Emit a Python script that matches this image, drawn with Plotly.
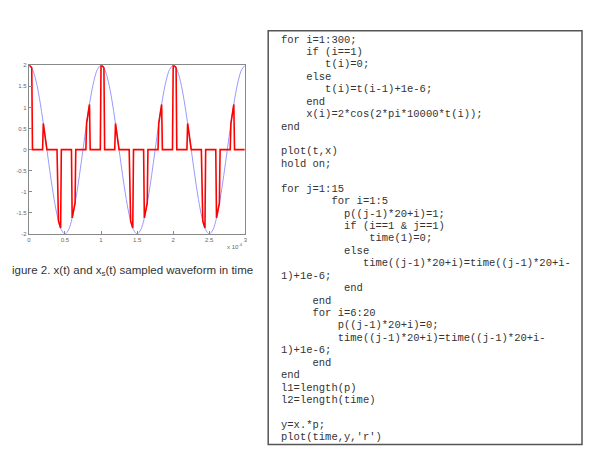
import plotly.graph_objects as go

# Blue: x(t) read every 5 microseconds (t in seconds)
t_blue = [i * 5e-6 for i in range(61)]
x_period = [2.00, 1.90, 1.62, 1.18, 0.62, 0.00, -0.62, -1.18, -1.62, -1.90,
            -2.00, -1.90, -1.62, -1.18, -0.62, 0.00, 0.62, 1.18, 1.62, 1.90]
x_blue = x_period * 3 + [2.00]

# Red: sampled pulses, 5 samples per 20-sample block, values per block phase
pulse_vals = [
    [2.00, 2.00, 1.98, 1.96, 1.94],
    [0.62, 0.50, 0.37, 0.25, 0.13],
    [-1.62, -1.69, -1.75, -1.81, -1.86],
    [-1.62, -1.54, -1.46, -1.37, -1.27],
    [0.62, 0.74, 0.85, 0.96, 1.07],
]
n_blocks = 15

t_red, y_red = [], []
for j in range(n_blocks):
    vals = pulse_vals[j % 5]
    for k in range(5):
        t_red.append((20 * j + k) * 1e-6)
        y_red.append(vals[k])
    t_red += [(20 * j + 5) * 1e-6, (20 * j + 19) * 1e-6]
    y_red += [0, 0]

code_lines = [
    "for i=1:300;", "    if (i==1)", "       t(i)=0;", "    else", "       t(i)=t(i-1)+1e-6;",
    "    end", "    x(i)=2*cos(2*pi*10000*t(i));", "end", "", "plot(t,x)", "hold on;", "",
    "for j=1:15", "        for i=1:5", "          p((j-1)*20+i)=1;", "          if (i==1 & j==1)",
    "              time(1)=0;", "          else", "             time((j-1)*20+i)=time((j-1)*20+i-",
    "1)+1e-6;", "          end", "     end", "     for i=6:20", "         p((j-1)*20+i)=0;",
    "         time((j-1)*20+i)=time((j-1)*20+i-", "1)+1e-6;", "     end", "end",
    "l1=length(p)", "l2=length(time)", "", "y=x.*p;", "plot(time,y,'r')",
]

OFF = 8
W, H = 593 - 2 * OFF, 457 - 2 * OFF
px = lambda x: (x - OFF) / W
py = lambda y: 1 - (y - OFF) / H

fig = go.Figure()
fig.add_trace(go.Scatter(x=t_blue, y=x_blue, mode="lines", line=dict(color="#9999ff", width=1, shape="spline")))
fig.add_trace(go.Scatter(x=t_red, y=y_red, mode="lines", line=dict(color="#ff0000", width=1.6)))

ax = dict(showgrid=False, zeroline=False, showline=True, linecolor="#888", mirror=True,
          ticks="inside", ticklen=3, tickcolor="#888", tickfont=dict(size=6, color="#666", family="Arial"))
fig.update_layout(
    width=W, height=H, showlegend=False, plot_bgcolor="white", paper_bgcolor="white",
    margin=dict(l=0, r=0, t=0, b=0),
    xaxis=dict(ax, domain=[px(27), px(245)], range=[0, 3e-4], tickvals=[0, 5e-5, 1e-4, 1.5e-4, 2e-4, 2.5e-4, 3e-4],
               ticktext=["0", "0.5", "1", "1.5", "2", "2.5", "3"]),
    yaxis=dict(ax, domain=[py(234), py(63)], range=[-2, 2], tickvals=[-2, -1.5, -1, -0.5, 0, 0.5, 1, 1.5, 2],
               ticktext=["-2", "-1.5", "-1", "-0.5", "0", "0.5", "1", "1.5", "2"]),
)
fig.add_annotation(x=px(245), y=py(240), xref="paper", yref="paper", xanchor="right", yanchor="top",
                   text="x 10<sup>-4</sup>", showarrow=False, font=dict(size=6, color="#666", family="Arial"))
fig.add_annotation(x=px(8), y=py(272), xref="paper", yref="paper", xanchor="left", yanchor="middle",
                   text="igure 2. x(t) and x<sub>s</sub>(t) sampled waveform in time", showarrow=False,
                   font=dict(size=11.5, color="#333", family="Liberation Sans"))
fig.add_shape(type="rect", xref="paper", yref="paper", x0=px(268), x1=px(584), y0=py(447.5), y1=py(28),
              line=dict(color="#555", width=1.5), fillcolor="rgba(0,0,0,0)")
for i, s in enumerate(code_lines):
    if s:
        fig.add_annotation(x=px(279), y=py(37 + i * 12.6), xref="paper", yref="paper",
                           xanchor="left", yanchor="middle", text=s.replace(" ", "&nbsp;"), showarrow=False,
                           font=dict(size=10.5, color="#333", family="Liberation Mono"))
fig.write_html("out.html")
